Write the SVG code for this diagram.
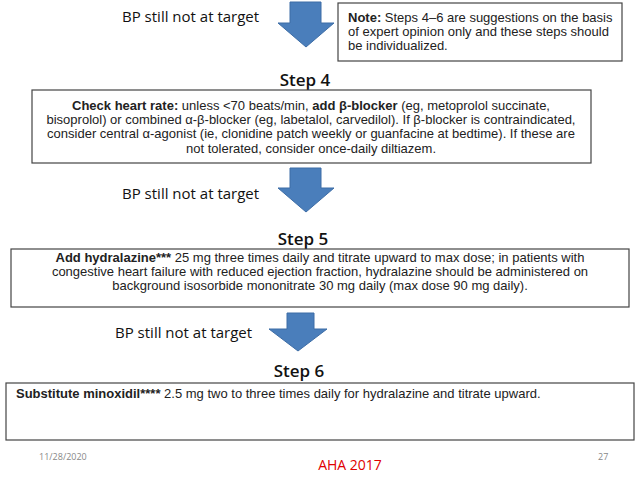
<svg xmlns="http://www.w3.org/2000/svg" width="638" height="478" viewBox="0 0 638 478">
<style>
.box{fill:#fff;stroke:#444;stroke-width:1.2}
.t{font-family:"Liberation Sans",Arial,sans-serif;font-size:13px;fill:#222}
.c{text-anchor:middle}
.b{font-weight:bold}
.bp{font-family:"Open Sans","Liberation Sans",sans-serif;font-size:15px;fill:#111}
.st{font-family:"Open Sans","Liberation Sans",sans-serif;font-size:17px;font-weight:600;fill:#111;text-anchor:middle}
.arr{fill:#4a7ebb;stroke:#3d6da6;stroke-width:1}
</style>
<rect width="638" height="478" fill="#fff"/>
<g id="connectors">
<path class="arr" d="M290,2 H321 V23 H334 L306,47 L278,23 H290 Z"/>
<path class="arr" d="M290,168 H321 V188 H334 L306,212 L278,188 H290 Z"/>
<path class="arr" d="M287,313 H314 V329 H327 L298,351 L269,329 H287 Z"/>
</g>
<g id="bp1"><text class="bp" x="122" y="22">BP still not at target</text></g>
<g id="note">
<rect class="box" x="338" y="3" width="284" height="58"/>
<text class="t" x="348" y="22"><tspan class="b">Note:</tspan> Steps 4–6 are suggestions on the basis</text>
<text class="t" x="348" y="36">of expert opinion only and these steps should</text>
<text class="t" x="348" y="50">be individualized.</text>
</g>
<g id="step4">
<text class="st" x="305" y="86">Step 4</text>
<rect class="box" x="32" y="90" width="559" height="73"/>
<text class="t c" x="311" y="110"><tspan class="b">Check heart rate:</tspan> unless &lt;70 beats/min, <tspan class="b">add β-blocker</tspan> (eg, metoprolol succinate,</text>
<text class="t c" x="311" y="124">bisoprolol) or combined α-β-blocker (eg, labetalol, carvedilol). If β-blocker is contraindicated,</text>
<text class="t c" x="311" y="138">consider central α-agonist (ie, clonidine patch weekly or guanfacine at bedtime). If these are</text>
<text class="t c" x="311" y="153">not tolerated, consider once-daily diltiazem.</text>
</g>
<g id="bp2"><text class="bp" x="122" y="199">BP still not at target</text></g>
<g id="step5">
<text class="st" x="303" y="245">Step 5</text>
<rect class="box" x="11" y="249" width="618" height="58"/>
<text class="t c" x="320" y="262"><tspan class="b">Add hydralazine***</tspan> 25 mg three times daily and titrate upward to max dose; in patients with</text>
<text class="t c" x="320" y="276">congestive heart failure with reduced ejection fraction, hydralazine should be administered on</text>
<text class="t c" x="320" y="290">background isosorbide mononitrate 30 mg daily (max dose 90 mg daily).</text>
</g>
<g id="bp3"><text class="bp" x="115" y="338">BP still not at target</text></g>
<g id="step6">
<text class="st" x="299" y="377">Step 6</text>
<rect class="box" x="6" y="383" width="628" height="57"/>
<text class="t" x="16" y="398"><tspan class="b">Substitute minoxidil****</tspan> 2.5 mg two to three times daily for hydralazine and titrate upward.</text>
</g>
<g id="footer">
<text x="39" y="460" font-family="'Open Sans','Liberation Sans',sans-serif" font-size="9" fill="#888">11/28/2020</text>
<text x="598" y="460" font-family="'Open Sans','Liberation Sans',sans-serif" font-size="9" fill="#888">27</text>
<text x="350" y="470" text-anchor="middle" font-family="'Open Sans','Liberation Sans',sans-serif" font-size="14" fill="#e00000">AHA 2017</text>
</g>
</svg>
